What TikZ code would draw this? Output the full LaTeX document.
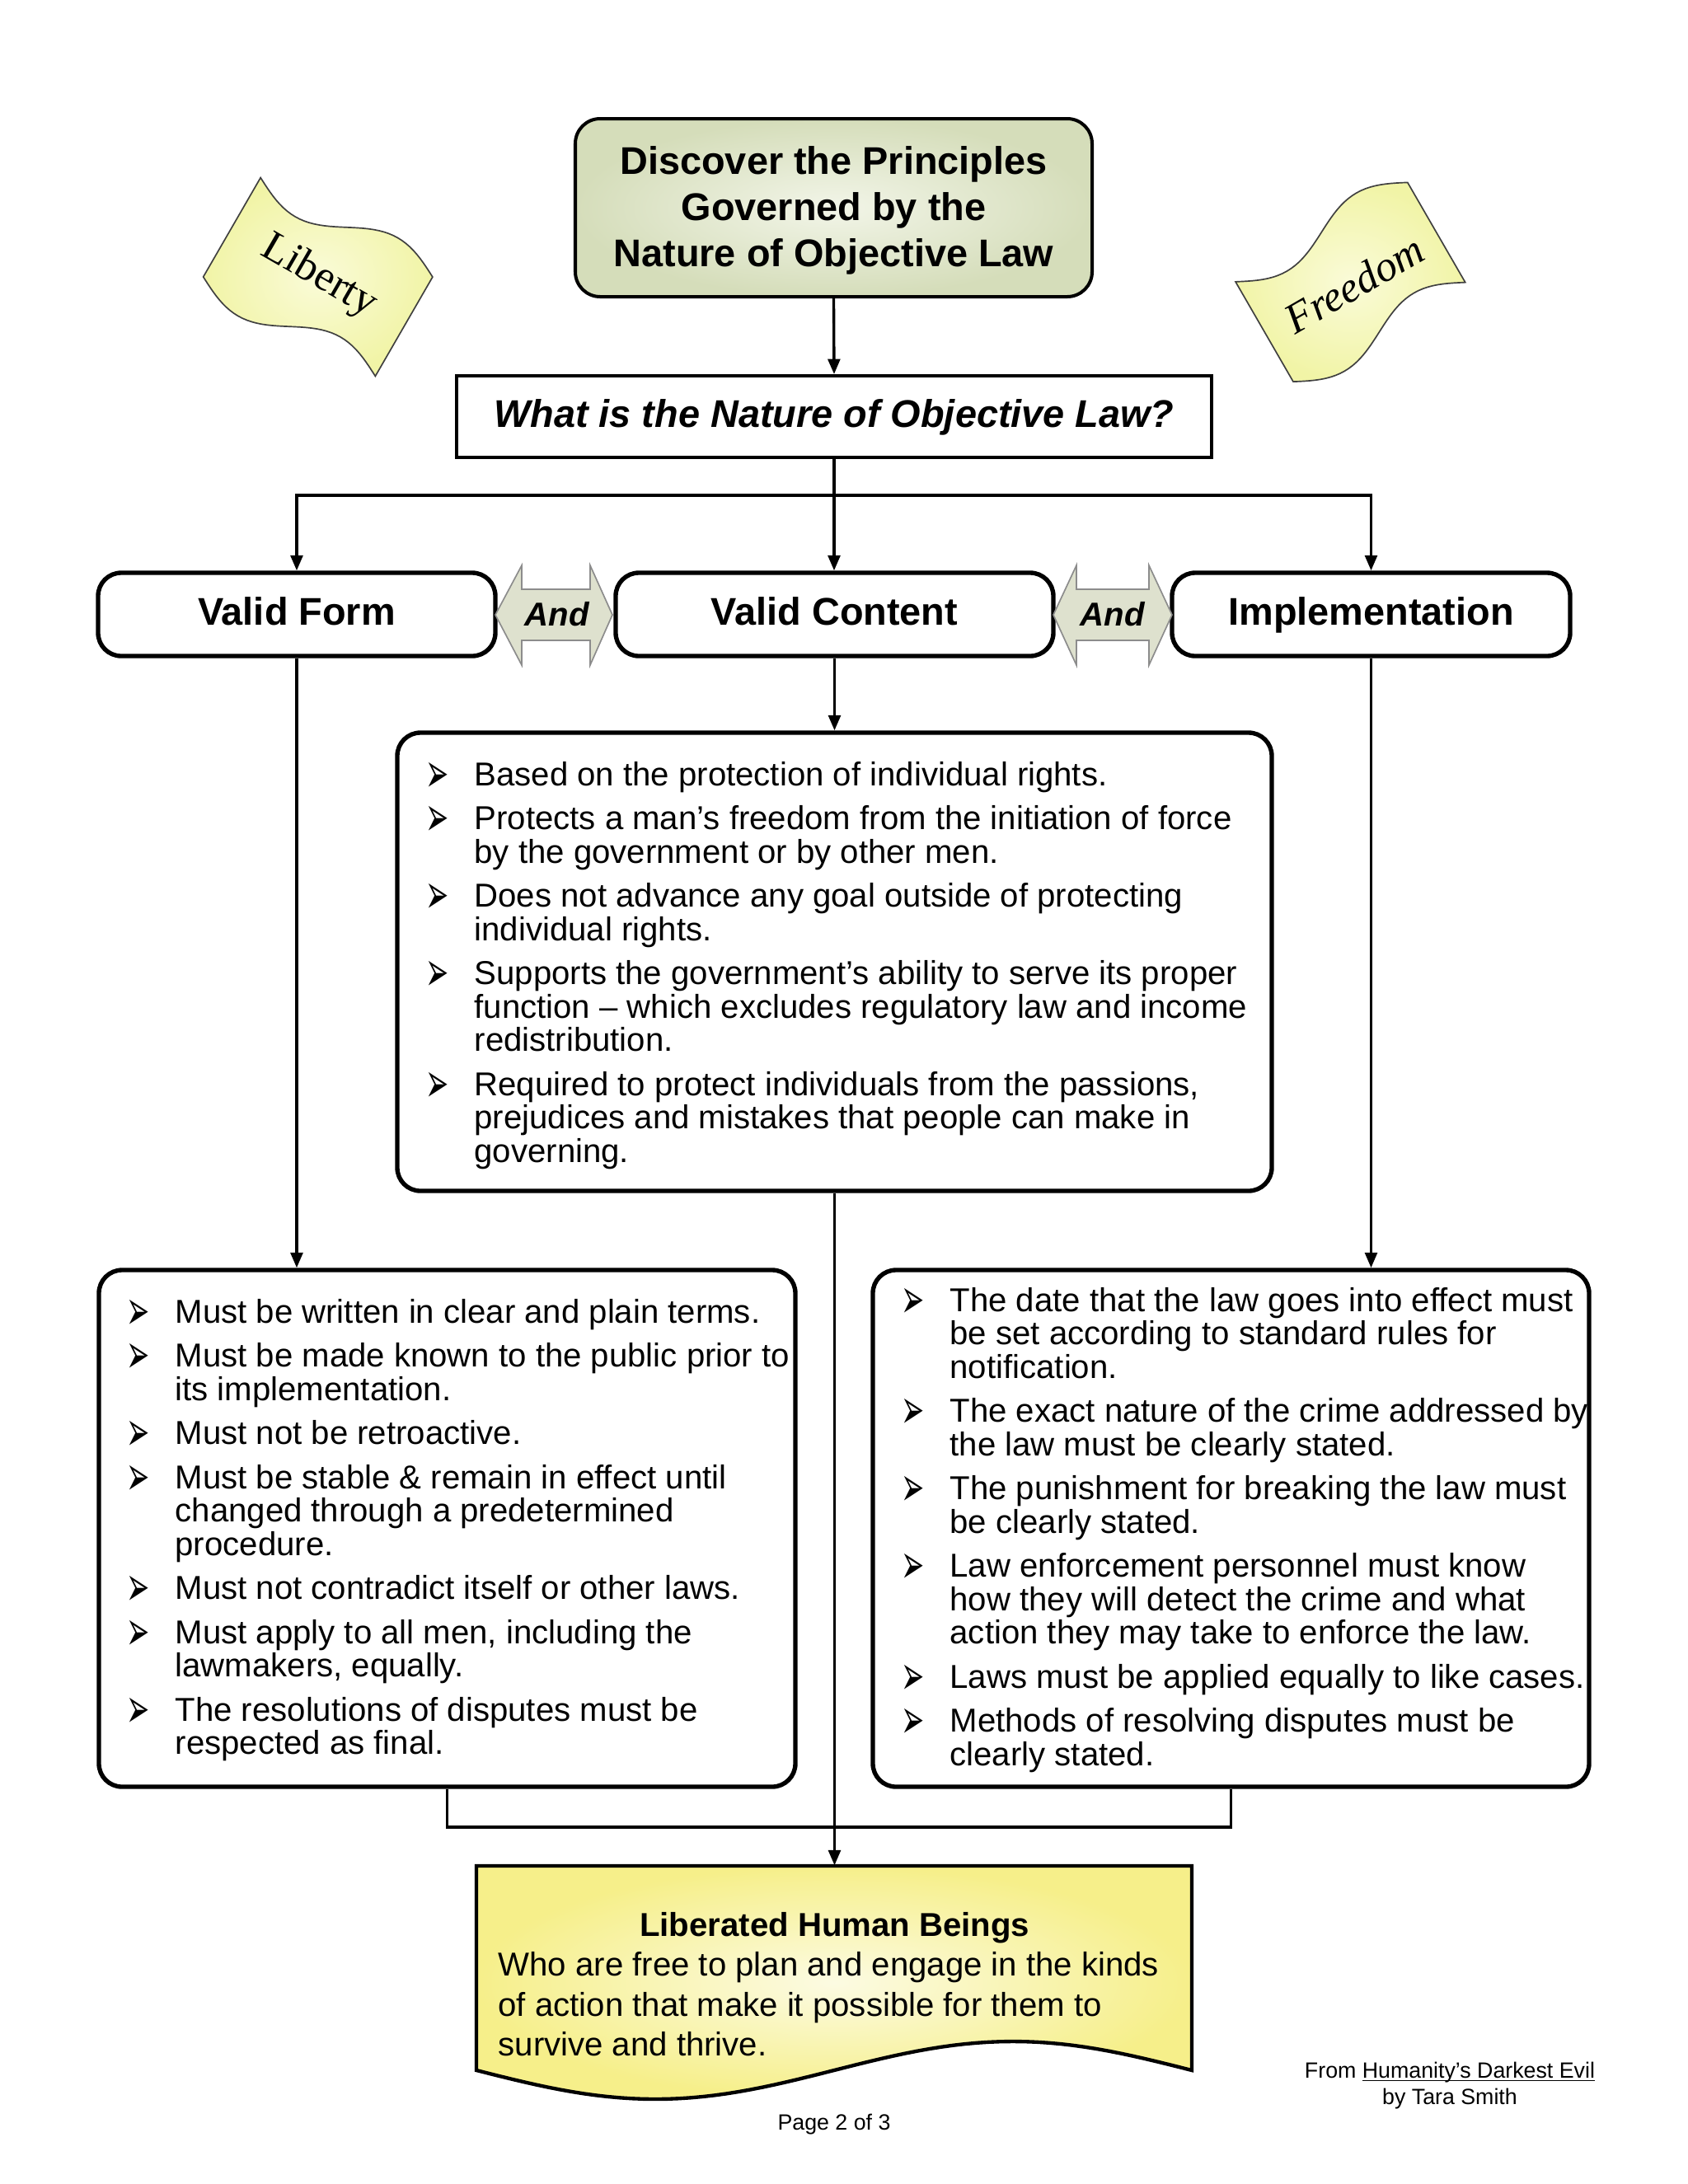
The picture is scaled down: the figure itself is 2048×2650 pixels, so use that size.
\documentclass[tikz,border=0pt]{standalone}
\usepackage{fontspec}
\usepackage{graphicx}
\setmainfont{Liberation Sans}
\newfontfamily\serifface{Liberation Serif}
\newfontfamily\symface{DejaVu Sans}
\usetikzlibrary{arrows.meta}
\definecolor{titleout}{HTML}{D5DDBA}
\definecolor{titlein}{HTML}{F2F5E8}
\definecolor{libout}{HTML}{F6EF8A}
\definecolor{libin}{HTML}{FCFBE2}
\definecolor{flagout}{HTML}{F1F4A6}
\definecolor{flagin}{HTML}{FAFBD8}
\definecolor{andfill}{HTML}{DEE1CE}
\newcommand\PX{0.29883pt}
\newlength\bulw \setlength\bulw{17.2pt}
\newlength\ulwd
\newcommand\ulx[1]{\settowidth\ulwd{#1}\rlap{\rule[-1.3pt]{\ulwd}{0.45pt}}#1}
\newcommand\bul{{\symface\fontsize{14}{14}\selectfont\raisebox{-2.4pt}[0pt][0pt]{\scalebox{0.72}[1.45]{➢}}}}
\newcommand\bitem[1]{\par\hangindent=\bulw\hangafter=1\noindent\makebox[\bulw][l]{\hspace*{-0.5pt}\bul}#1\parskip=3.9pt\relax}
\newcommand\blist[1]{\vtop{\hsize=340pt\parindent=0pt\rightskip=0pt plus 1fil\parskip=0pt\fontsize{12}{12.1}\selectfont #1\par}}
\begin{document}
\begin{tikzpicture}[x=0.29883pt, y=-0.29883pt,
  >={Triangle[length=5.5pt,width=4.4pt]},
  conn/.style={line width=1pt},
  rowbox/.style={draw, line width=1.6pt, rounded corners=8.4pt, inner sep=0pt, font=\fontsize{14}{16}\selectfont\bfseries, text height=8pt, text depth=0pt},
  listbox/.style={draw, line width=1.6pt, rounded corners=8.4pt, inner sep=0pt},
  listtext/.style={anchor=base west, inner sep=0pt},
  andarrow/.style={fill=andfill, draw=black!45, line width=0.5pt},
  andtext/.style={font=\fontsize{12}{14}\selectfont\bfseries\itshape, inner sep=0pt},
  flag/.style={draw=black!75, line width=0.5pt, inner color=flagin, outer color=flagout},
  smalltext/.style={font=\fontsize{8}{9.6}\selectfont, inner sep=0pt}
]
\useasboundingbox (0,0) rectangle (2048,2650);
\fill[white] (0,0) rectangle (2048,2650);

% flags
\begin{scope}[shift={(385.75,336)}, rotate=-30]
\path[flag] plot[domain=-120.5:120.5, samples=41, variable=\t] (\t, {-69.5+20*sin(1.49378*(\t+120.5))})
  -- plot[domain=0:241, samples=41, variable=\t] ({120.5-\t}, {69.5+20*sin(1.49378*(241-\t))}) -- cycle;
\end{scope}
\node[rotate=-30, inner sep=0, font=\serifface\fontsize{15.5}{15.5}\selectfont] (liberty) at (387,336) {Liberty};

\begin{scope}[shift={(1638.4,342.25)}, rotate=30]
\path[flag] plot[domain=-120.5:120.5, samples=41, variable=\t] (\t, {-70+20*sin(1.49378*(\t+120.5))})
  -- plot[domain=0:241, samples=41, variable=\t] ({120.5-\t}, {70+20*sin(1.49378*(241-\t))}) -- cycle;
\end{scope}
\node[rotate=30, inner sep=0, font=\serifface\itshape\fontsize{15.5}{15.5}\selectfont] (freedom) at (1643,345) {Freedom};

% title
\node[draw, line width=1.2pt, rounded corners=9pt, inner color=titlein, outer color=titleout,
  minimum width={627*\PX}, minimum height={216*\PX}, inner sep=0] (title) at (1011.5,252) {};
\node[anchor=base, inner sep=0, font=\fontsize{14}{16.75}\selectfont\bfseries] (titletext) at (1011.5,211)
  {\vtop{\hsize=220pt\centering Discover the Principles\\Governed by the\\Nature of Objective Law\par}};

% question
\node[draw, line width=1.2pt, minimum width={916*\PX}, minimum height={99*\PX}, inner sep=0,
  font=\fontsize{14}{16}\selectfont\bfseries\itshape, text height=8pt, text depth=0pt] (question) at (1012,505.5)
  {What is the Nature of Objective Law?};

% rows
\node[rowbox, minimum width={482*\PX}, minimum height={101*\PX}] (vf) at (360,745.5) {Valid Form};
\node[rowbox, minimum width={531*\PX}, minimum height={101*\PX}] (vc) at (1012.5,745.5) {Valid Content};
\node[rowbox, minimum width={483*\PX}, minimum height={101*\PX}] (impl) at (1663.5,745.5) {Implementation};

% and arrows
\path[andarrow] (601,746) -- (633,686) -- (633,715) -- (716,715) -- (716,686) -- (743,746)
  -- (716,807) -- (716,777) -- (633,777) -- (633,807) -- cycle;
\node[andtext] (and1) at (676,745) {And};
\path[andarrow] (1278,746) -- (1306,686) -- (1306,715) -- (1394,715) -- (1394,686) -- (1422,746)
  -- (1394,807) -- (1394,777) -- (1306,777) -- (1306,807) -- cycle;
\node[andtext] (and2) at (1350,745) {And};

% list boxes
\node[listbox, minimum width={1061*\PX}, minimum height={556*\PX}] (cbox) at (1012.5,1167) {};
\node[listtext] (ctext) at (517.4,953) {\blist{%
\bitem{Based on the protection of individual rights.}
\bitem{Protects a man’s freedom from the initiation of force\newline by the government or by other men.}
\bitem{Does not advance any goal outside of protecting\newline individual rights.}
\bitem{Supports the government’s ability to serve its proper\newline function – which excludes regulatory law and income\newline redistribution.}
\bitem{Required to protect individuals from the passions,\newline prejudices and mistakes that people can make in\newline governing.}}};

\node[listbox, minimum width={845*\PX}, minimum height={627*\PX}] (fbox) at (542.5,1854.5) {};
\node[listtext] (ftext) at (154.4,1605) {\blist{%
\bitem{Must be written in clear and plain terms.}
\bitem{Must be made known to the public prior to\newline its implementation.}
\bitem{Must not be retroactive.}
\bitem{Must be stable \& remain in effect until\newline changed through a predetermined\newline procedure.}
\bitem{Must not contradict itself or other laws.}
\bitem{Must apply to all men, including the\newline lawmakers, equally.}
\bitem{The resolutions of disputes must be\newline respected as final.}}};

\node[listbox, minimum width={869*\PX}, minimum height={627*\PX}] (ibox) at (1493.5,1854.5) {};
\node[listtext] (itext) at (1094.4,1591) {\blist{%
\bitem{The date that the law goes into effect must\newline be set according to standard rules for\newline notification.}
\bitem{The exact nature of the crime addressed by\newline the law must be clearly stated.}
\bitem{The punishment for breaking the law must\newline be clearly stated.}
\bitem{Law enforcement personnel must know\newline how they will detect the crime and what\newline action they may take to enforce the law.}
\bitem{Laws must be applied equally to like cases.}
\bitem{Methods of resolving disputes must be\newline clearly stated.}}};

% liberated
\node[inner sep=0, minimum width={868*\PX}, minimum height={283*\PX}] (lib) at (1012,2405.5) {};
\path[draw, line width=1.3pt, inner color=libin, outer color=libout] (578,2264) -- (1446,2264) -- (1446,2512)
  -- plot[domain=0:868, samples=61, variable=\t] ({1446-\t}, {2512+35*sin(0.414747*(868-\t))}) -- cycle;
\node[anchor=base west, inner sep=0] (libtext) at (604,2349) {\vtop{\hsize=243.85pt\fontsize{12}{14.5}\selectfont
  {\centering\bfseries Liberated Human Beings\par}\parindent=0pt\rightskip=0pt plus 1fil
  Who are free to plan and engage in the kinds\newline of action that make it possible for them to\newline survive and thrive.\par}};

% connectors
\coordinate (br) at (1012,601);
\coordinate (jn) at (1012,2217);
\draw[conn,->] (title.south) -- (question.north);
\draw[conn] (question.south) -- (br);
\draw[conn,->] (br) -| (vf.north);
\draw[conn,->] (br) -- (br |- vc.north);
\draw[conn,->] (br) -| (impl.north);
\draw[conn,->] (vf.south) -- (vf.south |- fbox.north);
\draw[conn,->] (vc.south) -- (vc.south |- cbox.north);
\draw[conn,->] (impl.south) -- (impl.south |- ibox.north);
\draw[conn] (fbox.south) |- (jn) -| (ibox.south);
\draw[conn,->] (cbox.south) -- (cbox.south |- lib.north);

% footer
\node[anchor=base, smalltext] (src) at (1759,2521) {\vtop{\hsize=150pt\centering From \ulx{Humanity’s Darkest Evil}\\by Tara Smith\par}};
\node[anchor=base, smalltext] (page) at (1012,2584) {Page 2 of 3};
\end{tikzpicture}
\end{document}
